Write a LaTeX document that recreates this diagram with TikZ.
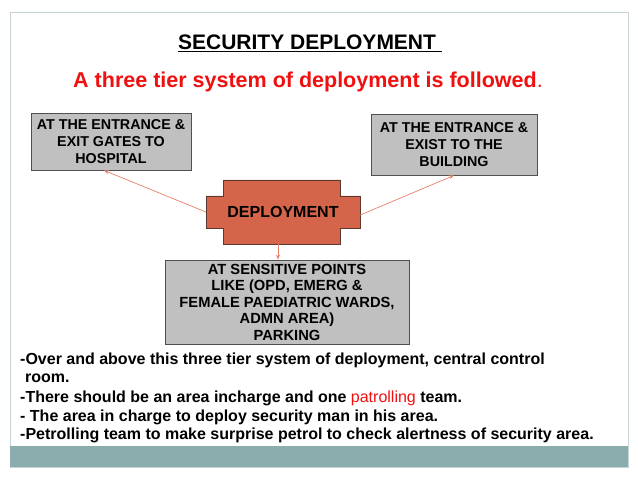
\documentclass[tikz,border=0pt]{standalone}
\usepackage{fontspec}
\setmainfont{Liberation Sans}
\usetikzlibrary{arrows.meta,calc}
\definecolor{boxgray}{HTML}{C0C0C0}
\definecolor{boxline}{HTML}{505050}
\definecolor{depfill}{HTML}{D4654A}
\definecolor{depline}{HTML}{5A3A30}
\definecolor{arrowc}{HTML}{E8806A}
\definecolor{band}{HTML}{8AAEAE}
\definecolor{frame}{HTML}{C8D4D4}
\definecolor{redtext}{HTML}{F01010}
\tikzset{
  graybox/.style={draw=boxline,line width=0.8pt,fill=boxgray,align=center,inner sep=0pt,
    font=\fontsize{14.3}{16.7}\selectfont\bfseries},
  conn/.style={draw=arrowc,line width=0.7pt,-{Stealth[length=5pt,width=4pt]}},
  bodyline/.style={anchor=base west,inner sep=0pt,font=\fontsize{16}{18}\selectfont\bfseries}
}
\begin{document}
\begin{tikzpicture}[x=1pt,y=-1pt]
\useasboundingbox (0,0) rectangle (638,478);
\fill[white] (0,0) rectangle (638,478);
\draw[frame,line width=0.8pt] (10,12) rectangle (628,467);
\fill[band] (10,446) rectangle (628,467);
% title
\node[anchor=base,inner sep=0pt,font=\fontsize{21}{23}\selectfont\bfseries] (title) at (310,50) {\underline{SECURITY DEPLOYMENT\ }};
\node[anchor=base,inner sep=0pt,text=redtext,font=\fontsize{21.5}{24}\selectfont\bfseries] (sub) at (308,88) {A three tier system of deployment is followed\textmd{.}};
% boxes
\node[graybox,minimum width=160pt,minimum height=57pt] (lbox) at (111,141.5) {AT THE ENTRANCE \&\\EXIT GATES TO\\HOSPITAL};
\node[graybox,minimum width=166pt,minimum height=61pt] (rbox) at (454,144.5) {AT THE ENTRANCE \&\\EXIST TO THE\\BUILDING};
\node[graybox,minimum width=244pt,minimum height=84pt,font=\fontsize{14.7}{16.5}\selectfont\bfseries] (bbox) at (287,302) {AT SENSITIVE POINTS\\LIKE (OPD, EMERG \&\\FEMALE PAEDIATRIC WARDS,\\ADMN AREA)\\PARKING};
% deployment shape
\draw[depline,fill=depfill,line width=0.8pt] (223,180) -- (340,180) -- (340,196) -- (360,196) -- (360,228) -- (340,228) -- (340,244) -- (223,244) -- (223,228) -- (206,228) -- (206,196) -- (223,196) -- cycle;
\node[inner sep=0pt,minimum width=154pt,minimum height=64pt,font=\fontsize{16}{18}\selectfont\bfseries] (dep) at (283,212) {DEPLOYMENT};
% connectors
\draw[conn] (dep.west) -- ($(lbox.south)+(-7,0)$);
\draw[conn] ($(dep.east)+(0,3)$) -- (rbox.south);
\draw[conn] ($(dep.south)+(-5,0)$) -- ($(bbox.north)+(-9,0)$);
% body text
\node[bodyline] (l1) at (20,365) {-Over and above this three tier system of deployment, central control};
\node[bodyline] (l2) at (25,383) {room.};
\node[bodyline] (l3) at (20,403) {-There should be an area incharge and one \textcolor{redtext}{\mdseries patrolling} team.};
\node[bodyline] (l4) at (20,422) {- The area in charge to deploy security man in his area.};
\node[bodyline] (l5) at (20,440) {-Petrolling team to make surprise petrol to check alertness of security area.};
\end{tikzpicture}
\end{document}
